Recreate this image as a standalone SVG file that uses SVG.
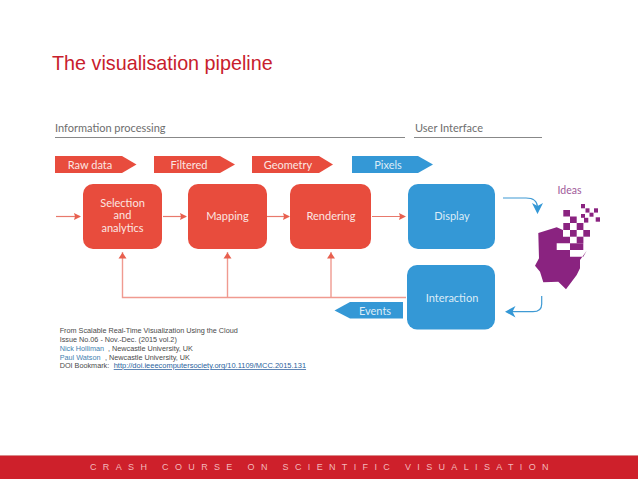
<svg xmlns="http://www.w3.org/2000/svg" width="638" height="479" viewBox="0 0 638 479">
<style>
text{font-family:"Lato","Liberation Sans",sans-serif}
.s{font-family:"Liberation Sans",Arial,sans-serif;font-size:7.25px;fill:#4a4a4a}
.b{font-family:"Liberation Sans",Arial,sans-serif;font-size:7.25px;fill:#3f7fb0}
.w{fill:#fbe6e2;font-size:11px;text-anchor:middle}
.wb{fill:#dcecf7;font-size:11px;text-anchor:middle}
.h{fill:#6e6e6e;font-size:11px}
.r{fill:#e84c3d}
.bl{fill:#3498d6}
.ln{stroke:#e8796c;stroke-width:1.2;fill:none}
.lp{stroke:#f09a90;stroke-width:1.4;fill:none}
.lb{stroke:#3f9ad4;stroke-width:1.2;fill:none}
.p{fill:#8a2380}
</style>
<defs>
<marker id="ah" markerWidth="7" markerHeight="7" refX="6" refY="3.5" orient="auto" markerUnits="userSpaceOnUse"><path d="M0 0L7 3.5L0 7L1 3.5Z" fill="#e8604f"/></marker>
</defs>
<rect width="638" height="479" fill="#fff"/>
<text x="52" y="70" font-size="19.750" fill="#c8202c" style="font-family:'Liberation Sans',Arial,sans-serif">The visualisation pipeline</text>

<g id="headers">
<text class="h" x="55" y="131.500">Information processing</text>
<text class="h" x="415" y="131.500">User Interface</text>
<path d="M55 137.500H405M414 137.500H542" stroke="#888" stroke-width="1" fill="none"/>
</g>

<g id="tag-raw"><path class="r" d="M55 156H122L136.500 164.500L122 173H55Z"/><text class="w" x="90" y="168.500">Raw data</text></g>
<g id="tag-filtered"><path class="r" d="M154 156H220L235 164.500L220 173H154Z"/><text class="w" x="189" y="168.500">Filtered</text></g>
<g id="tag-geometry"><path class="r" d="M252 156H319L333 164.500L319 173H252Z"/><text class="w" x="288" y="168.500">Geometry</text></g>
<g id="tag-pixels"><path class="bl" d="M352 156H418L433 164.500L418 173H352Z"/><text class="wb" x="388" y="168.500">Pixels</text></g>
<g id="tag-events"><path class="bl" d="M403 302H350L334.500 310.500L350 318.500H403Z"/><text class="wb" x="375" y="314.500">Events</text></g>

<g id="connectors">
<path class="ln" d="M56 216.500H80" marker-end="url(#ah)"/>
<path class="ln" d="M163 216.500H186" marker-end="url(#ah)"/>
<path class="ln" d="M267 216.500H289" marker-end="url(#ah)"/>
<path class="ln" d="M372 216.500H405" marker-end="url(#ah)"/>
<path class="lp" d="M406 297.500H122.500V252"/>
<path class="lp" d="M227.500 297.500V252"/>
<path class="lp" d="M331 297.500V252"/>
<path d="M122.500 252.500L118.500 258.500H126.500Z M227.500 252.500L223.500 258.500H231.500Z M331 252.500L327 258.500H335Z" fill="#e8604f"/>
<path class="lb" d="M503 198H526Q537 198 537.500 207"/>
<path d="M532 203L537.500 206L543 203L537.500 214Z" fill="#3498d6"/>
<path class="lb" d="M541.700 296V304Q541.700 311.700 533 311.700H510"/>
<path d="M505 311.700L515.500 306L512.500 311.700L515.500 317.500Z" fill="#3498d6"/>
</g>

<g id="selection"><rect class="r" x="83" y="184" width="79" height="65" rx="10"/><text class="w" x="122.500" y="206.500">Selection</text><text class="w" x="122.500" y="219">and</text><text class="w" x="122.500" y="231.500">analytics</text></g>
<g id="mapping"><rect class="r" x="188" y="184" width="79" height="65" rx="10"/><text class="w" x="227.500" y="219.500">Mapping</text></g>
<g id="rendering"><rect class="r" x="290" y="184" width="81" height="65" rx="10"/><text class="w" x="331" y="219.500">Rendering</text></g>
<g id="display"><rect class="bl" x="408" y="184" width="87" height="65" rx="10"/><text class="wb" x="452" y="220">Display</text></g>
<g id="interaction"><rect class="bl" x="407" y="265" width="88" height="64.500" rx="10"/><text class="wb" x="452" y="302">Interaction</text></g>

<g id="ideas">
<text x="569.500" y="193.500" font-size="10.500" fill="#a05a9a" text-anchor="middle">Ideas</text>
<path class="p" d="M538.300 233L556.700 227.300L563 230V236.700H570V243.300H556.700V250H570V256.700H583.300L586.700 250.700L580 260V268.300L576.700 275L566 289.300L558.300 281.700L543.300 282.300L540 271.700L535 265.700L539 258.300Z"/>
<g class="p">
<rect x="563.300" y="210" width="6.700" height="6.500"/><rect x="570" y="216.500" width="6.700" height="6.500"/>
<rect x="563.300" y="223" width="6.700" height="7"/><rect x="576.700" y="223" width="6.700" height="7"/>
<rect x="570" y="230" width="6.700" height="6.700"/><rect x="583.300" y="230" width="6.700" height="6.700"/>
<rect x="576.700" y="236.700" width="6.700" height="6.600"/><rect x="570" y="243.300" width="13.300" height="6.700"/>
<rect x="581" y="204" width="4" height="4.300"/><rect x="585.500" y="208.300" width="4" height="4.300"/><rect x="594" y="208.300" width="4" height="4.300"/>
<rect x="589.500" y="212.700" width="4" height="4"/><rect x="581" y="214" width="4" height="3.800"/><rect x="584" y="217.800" width="4.300" height="4.800"/><rect x="595.700" y="217.300" width="4.300" height="4.400"/>
</g>
</g>

<g id="credits">
<text class="s" x="59.700" y="332.800">From Scalable Real-Time Visualization Using the Cloud</text>
<text class="s" x="59.700" y="342">Issue No.06 - Nov.-Dec. (2015 vol.2)</text>
<text class="b" x="59.700" y="351.300">Nick Holliman</text><text class="s" x="108" y="351.300">, Newcastle University, UK</text>
<text class="b" x="59.700" y="359.500">Paul Watson</text><text class="s" x="105" y="359.500">, Newcastle University, UK</text>
<text class="s" x="59.700" y="368">DOI Bookmark:</text>
<text x="113.700" y="368" font-size="7.480" fill="#2a5f9e" text-decoration="underline" style="font-family:'Liberation Sans',Arial,sans-serif">http://doi.ieeecomputersociety.org/10.1109/MCC.2015.131</text>
</g>

<g id="footer">
<rect x="0" y="456" width="638" height="23" fill="#ce202b"/>
<rect x="0" y="455" width="638" height="1" fill="#d98a8a"/>
<text x="90" y="470" font-size="9" fill="#f3b9bb" letter-spacing="6.35" style="font-family:'Liberation Sans',Arial,sans-serif">CRASH COURSE ON SCIENTIFIC VISUALISATION</text>
</g>
</svg>
